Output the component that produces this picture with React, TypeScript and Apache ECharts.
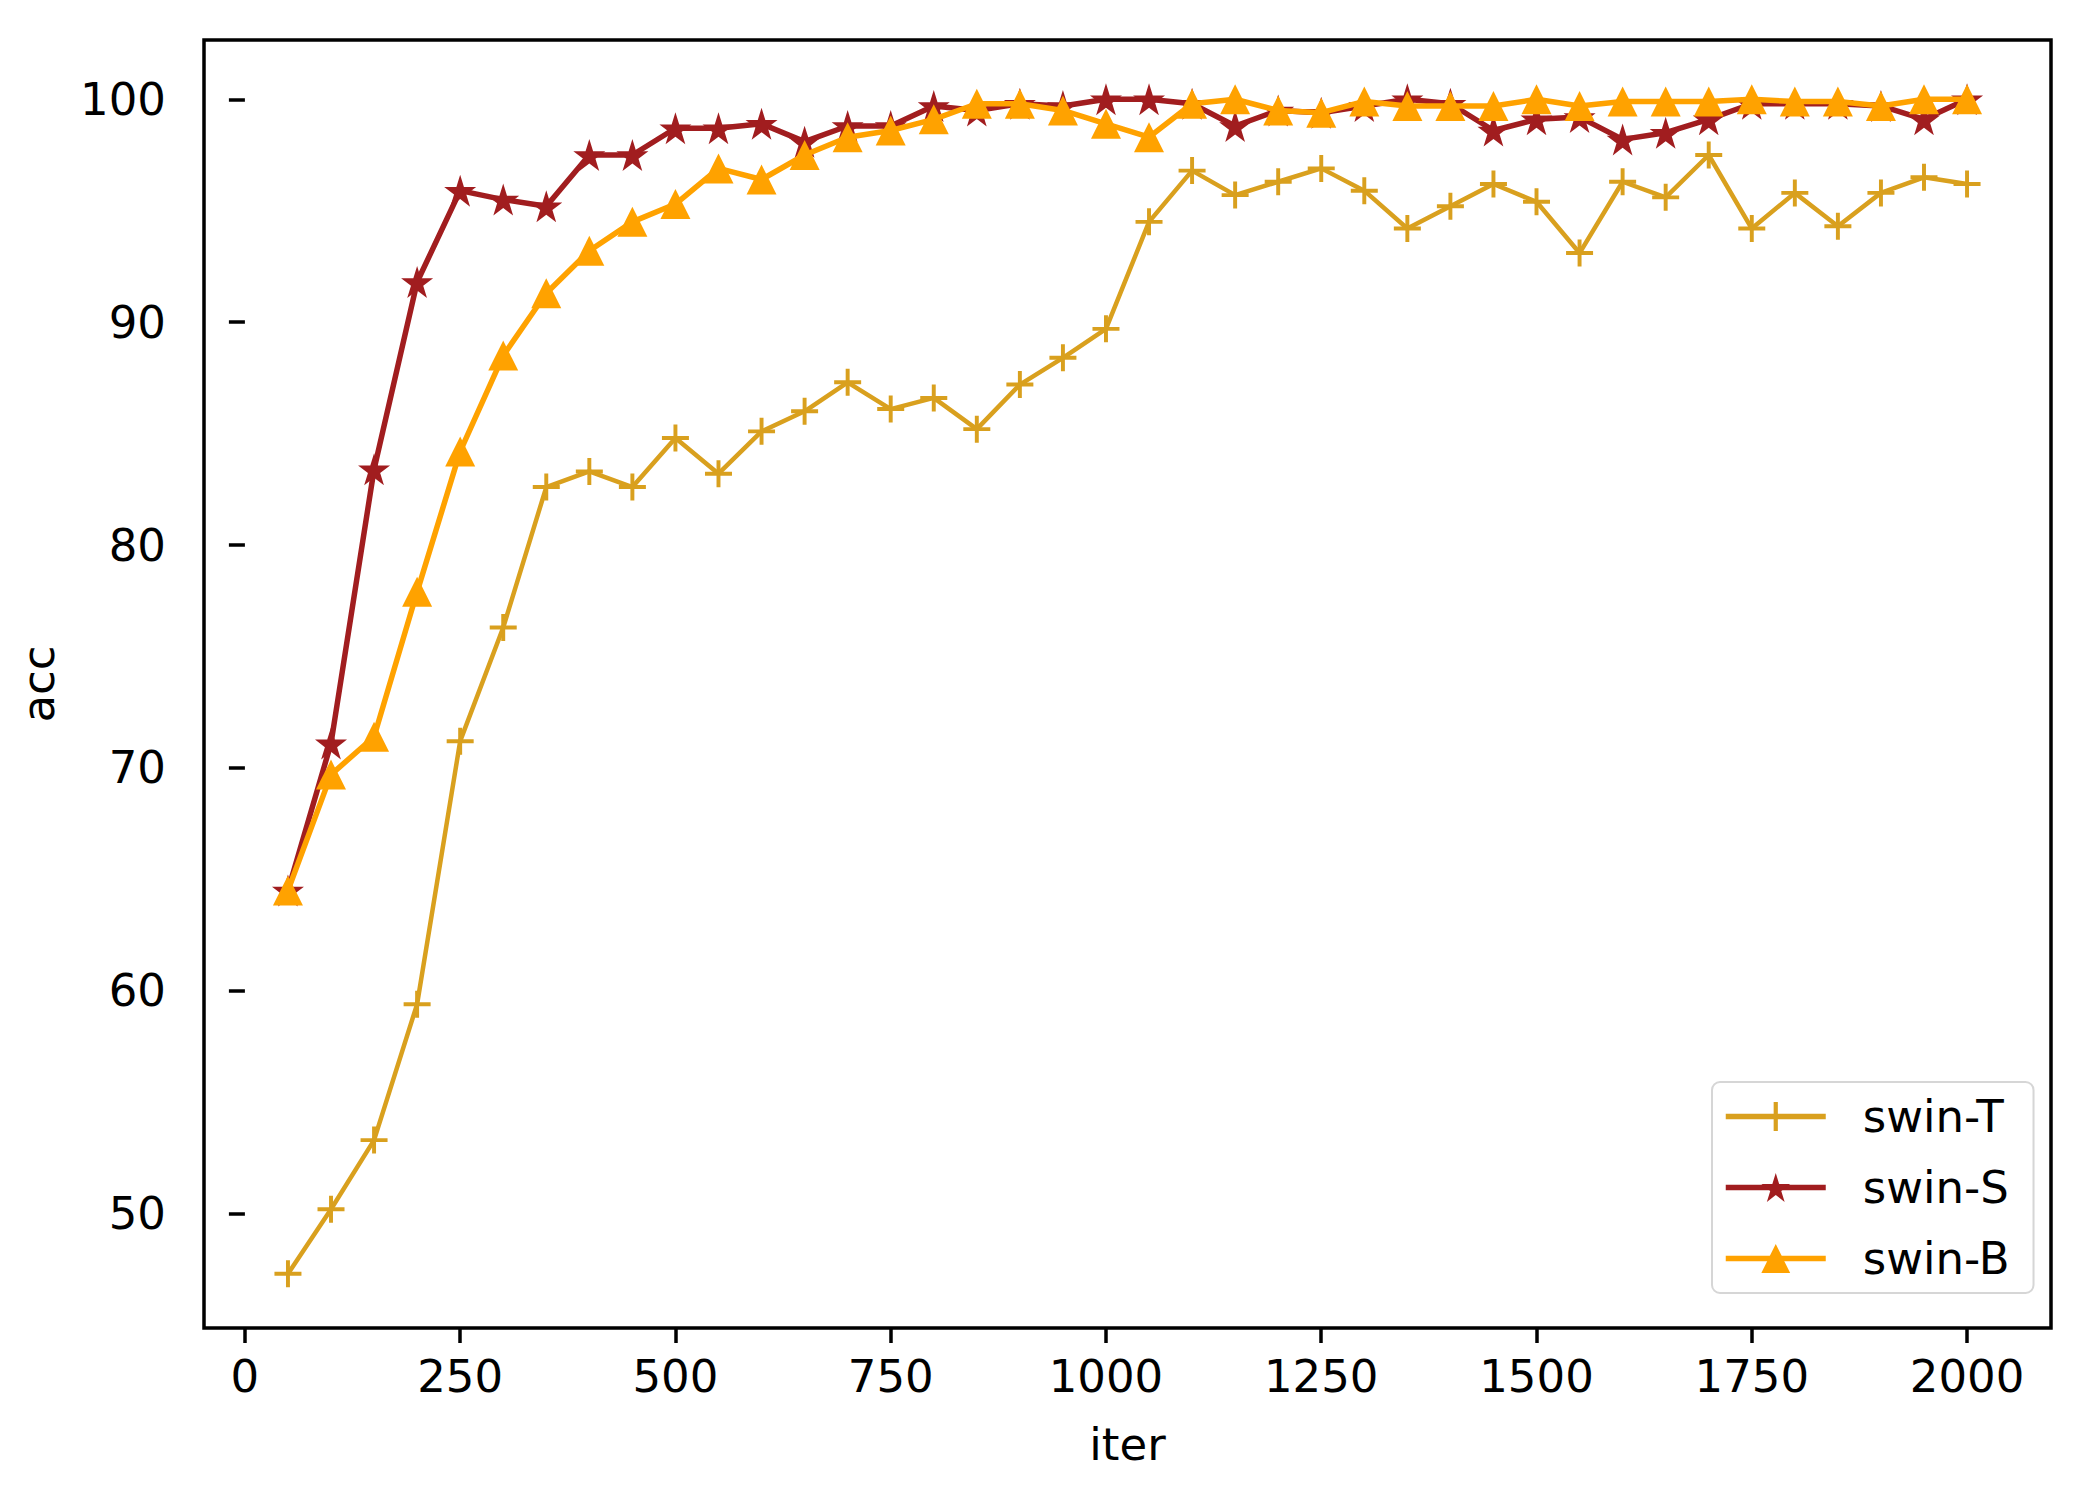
import React, { useEffect, useRef } from "react";
import * as echarts from "echarts";

const iters = [50, 100, 150, 200, 250, 300, 350, 400, 450, 500, 550, 600, 650, 700, 750, 800, 850, 900, 950, 1000,
  1050, 1100, 1150, 1200, 1250, 1300, 1350, 1400, 1450, 1500, 1550, 1600, 1650, 1700, 1750, 1800, 1850, 1900, 1950, 2000];

const swinT = [47.3, 50.2, 53.3, 59.4, 71.2, 76.3, 82.6, 83.3, 82.6, 84.8, 83.2, 85.1, 86.0, 87.3, 86.1, 86.6, 85.2, 87.2, 88.4, 89.7,
  94.5, 96.8, 95.7, 96.3, 96.9, 95.9, 94.2, 95.2, 96.2, 95.4, 93.1, 96.3, 95.6, 97.5, 94.2, 95.8, 94.3, 95.8, 96.5, 96.2];

const swinS = [64.5, 71.1, 83.4, 91.8, 95.9, 95.5, 95.2, 97.5, 97.5, 98.7, 98.7, 98.9, 98.1, 98.8, 98.8, 99.7, 99.5, 99.8, 99.7, 100.0,
  100.0, 99.8, 98.8, 99.5, 99.4, 99.7, 100.0, 99.8, 98.6, 99.1, 99.2, 98.2, 98.5, 99.1, 99.8, 99.8, 99.8, 99.7, 99.1, 100.0];

const swinB = [64.5, 69.7, 71.4, 77.9, 84.2, 88.5, 91.3, 93.2, 94.5, 95.3, 96.9, 96.4, 97.5, 98.3, 98.6, 99.1, 99.8, 99.8, 99.5, 98.9,
  98.3, 99.8, 100.0, 99.5, 99.4, 99.9, 99.7, 99.7, 99.7, 100.0, 99.7, 99.9, 99.9, 99.9, 100.0, 99.9, 99.9, 99.7, 100.0, 100.0];

const xTicks = [0, 250, 500, 750, 1000, 1250, 1500, 1750, 2000];
const yTicks = [50, 60, 70, 80, 90, 100];

const seriesNames = ["swin-T", "swin-S", "swin-B"];
const seriesColors = ["#D9A01E", "#A11D1F", "#FFA200"];

const PLUS = "path://M10.25,0H13.75V10.25H24V13.75H13.75V24H10.25V13.75H0V10.25H10.25Z";
const STAR = "path://M50,0L61.23,34.55L97.55,34.55L68.17,55.9L79.39,90.45L50,69.1L20.61,90.45L31.83,55.9L2.45,34.55L38.77,34.55Z";

export default function App() {
  const ref = useRef<HTMLDivElement>(null);
  useEffect(() => {
    document.body.style.margin = "0";
    const chart = echarts.init(ref.current!, undefined, { renderer: "svg" });
    const font = "DejaVu Sans";
    const mk = (vals: number[]) => iters.map((x, i) => [x, vals[i]]);
    chart.setOption({
      animation: false,
      backgroundColor: "#ffffff",
      grid: {
        left: 204, top: 40, right: 27, bottom: 165,
        show: true, borderColor: "#000", borderWidth: 3.5, backgroundColor: "transparent",
      },
      xAxis: {
        type: "value", min: -47.5, max: 2097.5,
        name: "iter", nameLocation: "middle", nameGap: 94,
        nameTextStyle: { fontFamily: font, fontSize: 45, color: "#000" },
        axisLine: { show: false },
        splitLine: { show: false },
        axisTick: { show: true, length: 15, inside: false, customValues: xTicks, lineStyle: { color: "#000", width: 3.5 } },
        axisLabel: { customValues: xTicks, fontFamily: font, fontSize: 45, color: "#000", margin: 26, formatter: (v: number) => String(v) },
      },
      yAxis: {
        type: "value", min: 44.87, max: 102.66,
        name: "acc", nameLocation: "middle", nameGap: 143,
        nameTextStyle: { fontFamily: font, fontSize: 45, color: "#000" },
        axisLine: { show: false },
        splitLine: { show: false },
        axisTick: { show: true, length: 16, inside: false, customValues: yTicks, lineStyle: { color: "#000", width: 3.5 } },
        axisLabel: { customValues: yTicks, fontFamily: font, fontSize: 45, color: "#000", margin: 38, formatter: (v: number) => String(v) },
      },
      legend: {
        orient: "vertical",
        left: 1712, top: 1082,
        padding: [12, 24, 12, 11],
        backgroundColor: "#fff",
        borderColor: "#d6d6d6", borderWidth: 2, borderRadius: 8,
        itemWidth: 100, itemHeight: 36, itemGap: 26,
        lineStyle: { width: 5.5 },
        textStyle: { fontFamily: font, fontSize: 45, color: "#000", padding: [0, 0, 0, 32] },
        data: seriesNames,
      },
      series: [
        {
          name: seriesNames[0], type: "line", data: mk(swinT),
          symbol: PLUS, symbolSize: 27, showSymbol: true,
          lineStyle: { color: seriesColors[0], width: 4.5 },
          itemStyle: { color: seriesColors[0] },
          z: 2,
        },
        {
          name: seriesNames[1], type: "line", data: mk(swinS),
          symbol: STAR, symbolSize: 32,
          lineStyle: { color: seriesColors[1], width: 5.5 },
          itemStyle: { color: seriesColors[1] },
          z: 3,
        },
        {
          name: seriesNames[2], type: "line", data: mk(swinB),
          symbol: "triangle", symbolSize: 30,
          lineStyle: { color: seriesColors[2], width: 5.5 },
          itemStyle: { color: seriesColors[2] },
          z: 4,
        },
      ],
    });
    return () => chart.dispose();
  }, []);
  return <div ref={ref} style={{ width: 2078, height: 1493 }} />;
}
